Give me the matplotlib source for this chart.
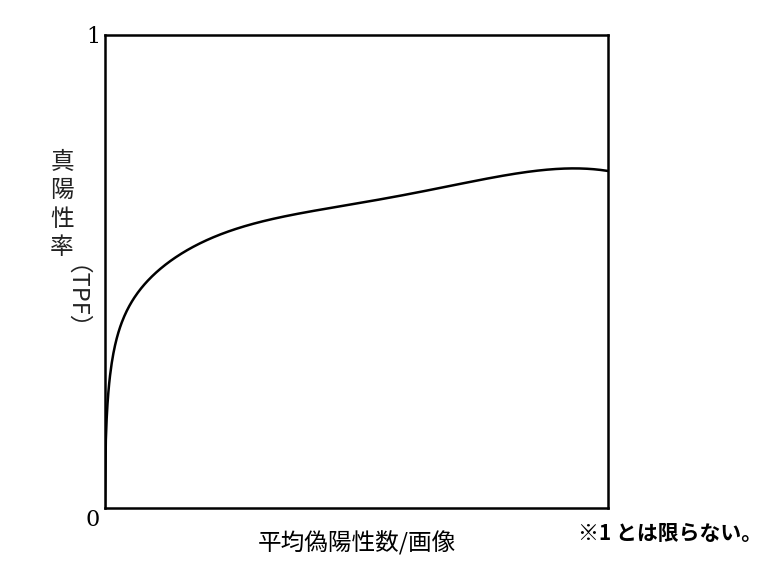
import matplotlib
matplotlib.use("Agg")
import matplotlib.pyplot as plt
import numpy as np

plt.rcParams['font.family'] = ['Noto Sans CJK JP', 'DejaVu Sans']

fp_per_image = [0.0, 0.002, 0.01, 0.025, 0.05, 0.1, 0.19, 0.39, 0.59, 0.79, 1.0]
tpf = [0.0, 0.16, 0.28, 0.36, 0.43, 0.50, 0.56, 0.62, 0.665, 0.70, 0.713]

fig = plt.figure(figsize=(7.82, 5.66), dpi=100)
ax = fig.add_axes([105/782, 1-508/566, 503/782, 473/566])

# smooth curve: least-squares polynomial in sqrt(x) through the read points
xs = np.sqrt(np.array(fp_per_image))
ys = np.array(tpf)
coef = np.polyfit(xs, ys, 6)
xf = np.linspace(0, 1, 600)
yf = np.polyval(coef, np.sqrt(xf))
yf[0] = 0.0
ax.plot(xf, yf, color='black', lw=1.8)

ax.set_xlim(0, 1)
ax.set_ylim(0, 1)
ax.set_xticks([])
ax.set_yticks([])
for s in ax.spines.values():
    s.set_linewidth(1.8)

fig.text(93/782, 1-520/566, '0', fontsize=16, ha='center', va='center', family='DejaVu Serif')
fig.text(93/782, 1-37/566, '1', fontsize=16, ha='center', va='center', family='DejaVu Serif')

fig.text(62/782, 1-205/566, '真\n陽\n性\n率', fontsize=17, ha='center', va='center', linespacing=1.3, color='#222222')
fig.text(62/782, 1-310/566, '（TPF）', fontsize=17, ha='center', va='center', rotation=270, color='#222222')

fig.text(357/782, 1-543/566, '平均偽陽性数/画像', fontsize=17, ha='center', va='center')
fig.text(670/782, 1-533/566, '※1 とは限らない。', fontsize=15, ha='center', va='center', fontweight='bold')

fig.savefig('out.png', dpi=100)
